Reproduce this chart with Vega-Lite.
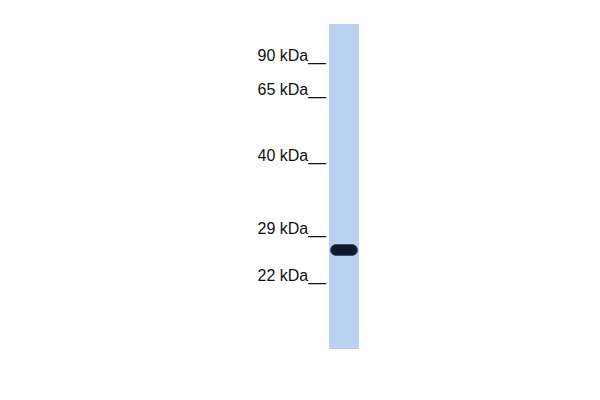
{
  "$schema": "https://vega.github.io/schema/vega-lite/v6.json",
  "width": 600,
  "height": 400,
  "padding": 0,
  "autosize": {"type": "fit", "contains": "padding"},
  "background": "white",
  "config": {"view": {"stroke": "transparent"}},
  "datasets": {
    "markers": [
      {"label": "90 kDa__", "migration": 61},
      {"label": "65 kDa__", "migration": 95},
      {"label": "40 kDa__", "migration": 161},
      {"label": "29 kDa__", "migration": 234},
      {"label": "22 kDa__", "migration": 281}
    ],
    "lanes": [
      {"lane": "lane 1", "start": 24, "end": 349}
    ],
    "bands": [
      {"lane": "lane 1", "start": 244.5, "end": 255.5}
    ]
  },
  "encoding": {
    "y": {
      "field": "start",
      "type": "quantitative",
      "scale": {"domain": [0, 400], "reverse": true, "nice": false, "zero": false},
      "axis": null
    }
  },
  "layer": [
    {
      "data": {"name": "lanes"},
      "mark": {"type": "rect", "width": 30, "color": "#bad1f1"},
      "encoding": {
        "x": {"field": "lane", "type": "nominal", "scale": {"type": "point", "padding": 0, "domain": ["ladder", "lane 1"], "range": [326, 344]}, "axis": null},
        "y2": {"field": "end"}
      }
    },
    {
      "data": {"name": "bands"},
      "mark": {"type": "rect", "width": 27, "color": "#0d1a2d", "cornerRadius": 5.5, "stroke": "#2a3b58", "strokeWidth": 1, "strokeOpacity": 0.6},
      "encoding": {
        "x": {"field": "lane", "type": "nominal", "scale": {"type": "point", "padding": 0, "domain": ["ladder", "lane 1"], "range": [326, 344]}, "axis": null},
        "y2": {"field": "end"}
      }
    },
    {
      "data": {"name": "markers"},
      "mark": {"type": "text", "align": "right", "baseline": "alphabetic", "font": "Liberation Sans", "fontSize": 16, "color": "#111111"},
      "encoding": {
        "x": {"datum": "ladder", "type": "nominal", "scale": {"type": "point", "padding": 0, "domain": ["ladder", "lane 1"], "range": [326, 344]}, "axis": null},
        "y": {"field": "migration", "type": "quantitative"},
        "text": {"field": "label"}
      }
    }
  ]
}
